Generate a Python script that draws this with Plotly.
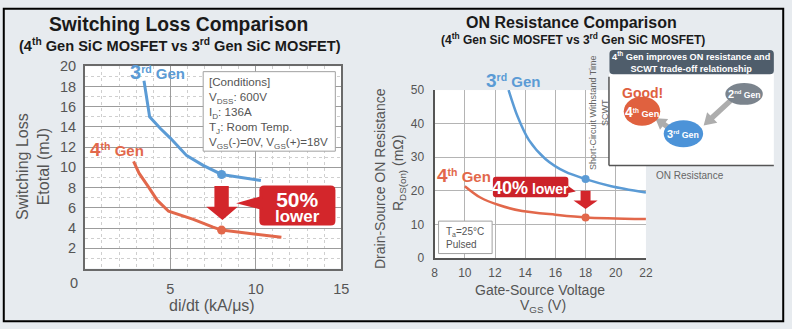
import math
import plotly.graph_objects as go

# ---------------- data ----------------
# Left: switching loss vs di/dt
sw_x_3rd = [3.46, 3.79, 4.42, 5.0, 5.96, 6.92, 8.0, 10.3]
sw_y_3rd = [18.56, 15.0, 13.84, 12.9, 11.16, 10.2, 9.3, 8.7]
sw_x_4th = [2.85, 3.17, 3.75, 4.23, 4.9, 6.35, 7.5, 8.0, 11.5]
sw_y_4th = [10.6, 9.43, 8.0, 6.76, 5.66, 4.87, 4.1, 3.8, 3.1]
sw_mark_3rd = 6   # index of highlighted point
sw_mark_4th = 7
sw_xticks = [0, 5, 10, 15]
sw_xticktext = ["", "5", "10", "15"]
sw_yticks = [0, 2, 4, 6, 8, 10, 12, 14, 16, 18, 20]
sw_yticktext = ["", "2", "4", "6", "8", "10", "12", "14", "16", "18", "20"]

# Right: ON resistance vs VGS
ron_x_3rd = [12.9, 13.49, 14.25, 15.34, 16.65, 18.0, 19.7, 22.0]
ron_y_3rd = [50.0, 42.2, 35.1, 29.5, 25.7, 23.5, 21.4, 19.5]
ron_x_4th = [10.0, 11.0, 12.3, 13.8, 16.0, 18.0, 22.0]
ron_y_4th = [21.4, 18.1, 15.7, 14.0, 12.9, 12.1, 11.6]
ron_mark_3rd = 5
ron_mark_4th = 5

# ---------------- style ----------------
W, H = 792, 329
BG = "#e7ebef"
BLUE = "#5b9bd5"
ORANGE = "#e2684b"
RED = "#d3262b"
GRAY_TXT = "#555555"
FONT = "Liberation Sans, Arial, sans-serif"


def px(x):
    return x / W


def py(y):
    return 1 - y / H


def rrect_path(x0, y0, x1, y1, rx, ry):
    # y0 < y1 (data/paper units, y up)
    return (f"M {x0+rx},{y1} L {x1-rx},{y1} Q {x1},{y1} {x1},{y1-ry} "
            f"L {x1},{y0+ry} Q {x1},{y0} {x1-rx},{y0} L {x0+rx},{y0} "
            f"Q {x0},{y0} {x0},{y0+ry} L {x0},{y1-ry} Q {x0},{y1} {x0+rx},{y1} Z")


def block_arrow(x0, y0, x1, y1, sw, hw, hl):
    # pixel coords (y down) -> paper path
    dx, dy = x1 - x0, y1 - y0
    L = math.hypot(dx, dy)
    ux, uy = dx / L, dy / L
    nx, ny = -uy, ux
    bx, by = x1 - ux * hl, y1 - uy * hl
    pts = [(x0 + nx * sw / 2, y0 + ny * sw / 2), (bx + nx * sw / 2, by + ny * sw / 2),
           (bx + nx * hw / 2, by + ny * hw / 2), (x1, y1),
           (bx - nx * hw / 2, by - ny * hw / 2), (bx - nx * sw / 2, by - ny * sw / 2),
           (x0 - nx * sw / 2, y0 - ny * sw / 2)]
    return "M " + " L ".join(f"{px(a):.5f},{py(b):.5f}" for a, b in pts) + " Z"


fig = go.Figure()

# left curves
fig.add_trace(go.Scatter(x=sw_x_3rd, y=sw_y_3rd, mode="lines",
                         line=dict(color=BLUE, width=3), xaxis="x", yaxis="y"))
fig.add_trace(go.Scatter(x=sw_x_4th, y=sw_y_4th, mode="lines",
                         line=dict(color=ORANGE, width=3), xaxis="x", yaxis="y"))
fig.add_trace(go.Scatter(x=[sw_x_3rd[sw_mark_3rd], sw_x_4th[sw_mark_4th]],
                         y=[sw_y_3rd[sw_mark_3rd], sw_y_4th[sw_mark_4th]],
                         mode="markers", marker=dict(color=[BLUE, ORANGE], size=9),
                         xaxis="x", yaxis="y"))
# right curves
fig.add_trace(go.Scatter(x=ron_x_3rd, y=ron_y_3rd, mode="lines",
                         line=dict(color=BLUE, width=2.5, shape="spline", smoothing=0.8),
                         xaxis="x2", yaxis="y2"))
fig.add_trace(go.Scatter(x=ron_x_4th, y=ron_y_4th, mode="lines",
                         line=dict(color=ORANGE, width=2.5, shape="spline", smoothing=0.8),
                         xaxis="x2", yaxis="y2"))
fig.add_trace(go.Scatter(x=[ron_x_3rd[ron_mark_3rd], ron_x_4th[ron_mark_4th]],
                         y=[ron_y_3rd[ron_mark_3rd], ron_y_4th[ron_mark_4th]],
                         mode="markers", marker=dict(color=[BLUE, ORANGE], size=8),
                         xaxis="x2", yaxis="y2"))

shapes = []
ann = []

# ---------- left arrow + callout (data coords) ----------
mx = sw_x_4th[sw_mark_4th]
my = sw_y_4th[sw_mark_4th]
shapes.append(dict(type="path", xref="x", yref="y", fillcolor=RED, line=dict(width=0),
                   path=(f"M {mx-0.42},{my+4.35} L {mx+0.42},{my+4.35} L {mx+0.42},{my+2.3} "
                         f"L {mx+0.95},{my+2.3} L {mx+0.05},{my+1.0} L {mx-0.9},{my+2.3} "
                         f"L {mx-0.42},{my+2.3} Z"), layer="above"))
shapes.append(dict(type="path", xref="x", yref="y", fillcolor=RED, line=dict(width=0),
                   path=rrect_path(10.21, 4.25, 14.66, 8.2, 0.28, 0.45), layer="above"))
shapes.append(dict(type="path", xref="x", yref="y", fillcolor=RED, line=dict(width=0),
                   path="M 10.4,7.2 L 8.85,6.45 L 10.4,5.8 Z", layer="above"))
ann.append(dict(x=12.45, y=6.1, xref="x", yref="y", showarrow=False,
                text=("<span style='font-size:21px'><b>50%</b></span><br>"
                      "<span style='font-size:17px'><b>lower</b></span>"),
                font=dict(size=11.5, color="white", family=FONT)))

# ---------- right arrow + callout ----------
rx_ = ron_x_4th[ron_mark_4th]
ry_ = ron_y_4th[ron_mark_4th]
shapes.append(dict(type="path", xref="x2", yref="y2", fillcolor=RED, line=dict(width=0),
                   path=(f"M {rx_-0.33},{ry_+7.9} L {rx_+0.33},{ry_+7.9} L {rx_+0.33},{ry_+5.0} "
                         f"L {rx_+0.8},{ry_+5.0} L {rx_},{ry_+2.5} L {rx_-0.8},{ry_+5.0} "
                         f"L {rx_-0.33},{ry_+5.0} Z"), layer="above"))
shapes.append(dict(type="path", xref="x2", yref="y2", fillcolor="#cc2229", line=dict(width=0),
                   path=rrect_path(11.86, 18.1, 16.86, 24.2, 0.2, 0.9), layer="above"))
shapes.append(dict(type="path", xref="x2", yref="y2", fillcolor="#cc2229", line=dict(width=0),
                   path="M 16.7,22.0 L 17.35,19.8 L 16.7,19.2 Z", layer="above"))
ann.append(dict(x=14.36, y=20.9, xref="x2", yref="y2",
                text="<b><span style='font-size:18px'>40%</span> lower</b>", showarrow=False,
                font=dict(size=14, color="white", family=FONT)))

# ---------- conditions box ----------
shapes.append(dict(type="rect", xref="paper", yref="paper", x0=px(203), x1=px(337),
                   y0=py(150), y1=py(66.7), fillcolor="white",
                   line=dict(color="#a0a0a0", width=1), layer="above"))
ann.append(dict(x=px(207), y=py(110.5), xref="paper", yref="paper", xanchor="left",
                yanchor="middle", align="left", showarrow=False,
                text=("[Conditions]<br>V<sub>DSS</sub>: 600V<br>I<sub>D</sub>: 136A<br>"
                      "T<sub>J</sub>: Room Temp.<br>V<sub>GS</sub>(-)=0V, V<sub>GS</sub>(+)=18V"),
                font=dict(size=11.6, color=GRAY_TXT, family=FONT)))

# ---------- Ta box ----------
shapes.append(dict(type="rect", xref="paper", yref="paper", x0=px(441.7), x1=px(496),
                   y0=py(257.3), y1=py(223.3), fillcolor="white",
                   line=dict(color="#a0a0a0", width=1), layer="above"))
ann.append(dict(x=px(447), y=py(241), xref="paper", yref="paper", xanchor="left",
                yanchor="middle", align="left", showarrow=False,
                text="T<sub>a</sub>=25°C<br>Pulsed",
                font=dict(size=10, color=GRAY_TXT, family=FONT)))

# ---------- Gen labels ----------
ann.append(dict(x=px(157), y=py(67), xref="paper", yref="paper", showarrow=False,
                text="<b><span style='font-size:20px'>3</span><sup>rd</sup> Gen</b>",
                font=dict(size=15, color=BLUE, family=FONT)))
ann.append(dict(x=px(116), y=py(148), xref="paper", yref="paper", showarrow=False,
                text="<b><span style='font-size:19px'>4</span><sup>th</sup> Gen</b>",
                font=dict(size=15, color=ORANGE, family=FONT)))
ann.append(dict(x=px(517), y=py(76), xref="paper", yref="paper", showarrow=False,
                text="<b><span style='font-size:19px'>3</span><sup>rd</sup> Gen</b>",
                font=dict(size=15, color=BLUE, family=FONT)))
ann.append(dict(x=px(467.5), y=py(176), xref="paper", yref="paper", showarrow=False,
                text="<b><span style='font-size:19px'>4</span><sup>th</sup> Gen</b>",
                font=dict(size=15, color=ORANGE, family=FONT)))

# ---------- titles ----------
ann.append(dict(x=px(178), y=py(17), xref="paper", yref="paper", showarrow=False,
                text="<b>Switching Loss Comparison</b>",
                font=dict(size=19.3, color="#1a1a1a", family=FONT)))
ann.append(dict(x=px(179), y=py(38.5), xref="paper", yref="paper", showarrow=False,
                text="<b>(4<sup>th</sup> Gen SiC MOSFET vs 3<sup>rd</sup> Gen SiC MOSFET)</b>",
                font=dict(size=14.6, color="#1a1a1a", family=FONT)))
ann.append(dict(x=px(576), y=py(15), xref="paper", yref="paper", showarrow=False,
                text="<b>ON Resistance Comparison</b>",
                font=dict(size=16, color="#1a1a1a", family=FONT)))
ann.append(dict(x=px(578), y=py(33), xref="paper", yref="paper", showarrow=False,
                text="<b>(4<sup>th</sup> Gen SiC MOSFET vs 3<sup>rd</sup> Gen SiC MOSFET)</b>",
                font=dict(size=12, color="#1a1a1a", family=FONT)))

# ---------- axis titles ----------
ann.append(dict(x=px(31), y=py(166), xref="paper", yref="paper", showarrow=False,
                textangle=-90, text="Switching Loss<br>Etotal (mJ)",
                font=dict(size=16, color=GRAY_TXT, family=FONT)))
ann.append(dict(x=px(212), y=py(311.5), xref="paper", yref="paper", showarrow=False,
                text="di/dt (kA/μs)", font=dict(size=16, color=GRAY_TXT, family=FONT)))
ann.append(dict(x=px(72), y=py(288), xref="paper", yref="paper", showarrow=False,
                text="0", font=dict(size=14.5, color=GRAY_TXT, family=FONT)))
ann.append(dict(x=px(382.5), y=py(179), xref="paper", yref="paper", showarrow=False,
                textangle=-90, text="Drain-Source ON Resistance",
                font=dict(size=14, color=GRAY_TXT, family=FONT)))
ann.append(dict(x=px(401), y=py(172.5), xref="paper", yref="paper", showarrow=False,
                textangle=-90, text="R<sub>DS(on)</sub> (mΩ)",
                font=dict(size=14, color=GRAY_TXT, family=FONT)))
ann.append(dict(x=px(544.5), y=py(295), xref="paper", yref="paper", showarrow=False,
                text="Gate-Source Voltage",
                font=dict(size=14, color=GRAY_TXT, family=FONT)))
ann.append(dict(x=px(547.5), y=py(312), xref="paper", yref="paper", showarrow=False,
                text="V<sub>GS</sub> (V)",
                font=dict(size=14, color=GRAY_TXT, family=FONT)))

# ---------- inset ----------
shapes.append(dict(type="rect", xref="paper", yref="paper", x0=px(614.5), x1=px(781.7),
                   y0=py(165), y1=py(69), fillcolor="white", line=dict(width=0), layer="above"))
shapes.append(dict(type="path", xref="paper", yref="paper", fillcolor="#4f5d6b",
                   line=dict(width=0), layer="above",
                   path=rrect_path(px(615), py(69.5), px(781.7), py(44), px(4), 4 / H)))
shapes.append(dict(type="line", xref="paper", yref="paper", x0=px(614.5), x1=px(614.5),
                   y0=py(72), y1=py(165), line=dict(color="#555", width=1.5), layer="above"))
shapes.append(dict(type="line", xref="paper", yref="paper", x0=px(614.5), x1=px(781.7),
                   y0=py(165), y1=py(165), line=dict(color="#555", width=1.5), layer="above"))
# gray arrows (behind ellipses)
shapes.append(dict(type="path", xref="paper", yref="paper", fillcolor="#adadad",
                   line=dict(width=0), layer="above",
                   path=block_arrow(740, 95, 710.5, 123, 5.5, 15, 12)))
shapes.append(dict(type="path", xref="paper", yref="paper", fillcolor="#adadad",
                   line=dict(width=0), layer="above",
                   path=block_arrow(680, 129, 661.5, 115.5, 5.5, 14, 11)))
# ellipses
shapes.append(dict(type="circle", xref="paper", yref="paper", x0=px(732.5), x1=px(770.5),
                   y0=py(101.5), y1=py(78.5), fillcolor="#7b848d", line=dict(width=0),
                   layer="above"))
shapes.append(dict(type="circle", xref="paper", yref="paper", x0=px(670), x1=px(710),
                   y0=py(146), y1=py(117.5), fillcolor="#4c93d8", line=dict(width=0),
                   layer="above"))
shapes.append(dict(type="circle", xref="paper", yref="paper", x0=px(629.5), x1=px(666.5),
                   y0=py(123.5), y1=py(93), fillcolor="#e0613f", line=dict(width=0),
                   layer="above"))
ann.append(dict(x=px(698), y=py(57), xref="paper", yref="paper", showarrow=False,
                text="<b>4<sup>th</sup> Gen improves ON resistance and<br>SCWT trade-off relationship</b>",
                font=dict(size=9.2, color="white", family=FONT)))
ann.append(dict(x=px(604.5), y=py(110), xref="paper", yref="paper", showarrow=False,
                textangle=-90, text="Short-Circuit Withstand Time<br>SCWT",
                font=dict(size=9, color="#666", family=FONT)))
ann.append(dict(x=px(697), y=py(175), xref="paper", yref="paper", showarrow=False,
                text="ON Resistance", font=dict(size=10, color="#666", family=FONT)))
ann.append(dict(x=px(648), y=py(89), xref="paper", yref="paper", showarrow=False,
                text="<b>Good!</b>", font=dict(size=14, color="#e0603f", family=FONT)))
ann.append(dict(x=px(752), y=py(90), xref="paper", yref="paper", showarrow=False,
                text="<b><span style='font-size:11px'>2</span><sup>nd</sup> Gen</b>",
                font=dict(size=8.6, color="white", family=FONT)))
ann.append(dict(x=px(690), y=py(132), xref="paper", yref="paper", showarrow=False,
                text="<b><span style='font-size:11px'>3</span><sup>rd</sup> Gen</b>",
                font=dict(size=8.8, color="white", family=FONT)))
ann.append(dict(x=px(648), y=py(108.5), xref="paper", yref="paper", showarrow=False,
                text="<b><span style='font-size:14px'>4</span><sup>th</sup> Gen</b>",
                font=dict(size=9.2, color="white", family=FONT)))

for a in ann:
    a.setdefault("xanchor", "center")
    a.setdefault("yanchor", "middle")

# outer border
shapes.append(dict(type="rect", xref="paper", yref="paper", x0=0.001, x1=0.999,
                   y0=0.002, y1=0.998, line=dict(color="black", width=2), layer="above"))

tickfont_l = dict(size=14.5, color=GRAY_TXT, family=FONT)
tickfont_r = dict(size=12, color=GRAY_TXT, family=FONT)

fig.update_layout(
    width=W, height=H, margin=dict(l=0, r=0, t=0, b=0),
    paper_bgcolor=BG, plot_bgcolor="white", showlegend=False,
    font=dict(family=FONT),
    xaxis=dict(domain=[px(83), px(343)], range=[0, 15], anchor="y",
               tickmode="array", tickvals=sw_xticks, ticktext=sw_xticktext,
               showline=True, mirror=True, linecolor="#6a6a6a", linewidth=1.5,
               showgrid=True, gridcolor="#9c9c9c", gridwidth=1, zeroline=False,
               ticks="", tickfont=tickfont_l, ticklabelstandoff=6,
               minor=dict(tickmode="linear", tick0=0, dtick=1, showgrid=True,
                          gridcolor="#cfcfcf", griddash="dot", gridwidth=1)),
    yaxis=dict(domain=[py(273), py(61)], range=[0, 20], anchor="x",
               tickmode="array", tickvals=sw_yticks, ticktext=sw_yticktext,
               showline=True, mirror=True, linecolor="#6a6a6a", linewidth=1.5,
               showgrid=True, gridcolor="#9c9c9c", gridwidth=1, zeroline=False,
               ticks="", tickfont=tickfont_l, ticklabelstandoff=4,
               minor=dict(tickmode="linear", tick0=0, dtick=1, showgrid=True,
                          gridcolor="#cfcfcf", griddash="dot", gridwidth=1)),
    xaxis2=dict(domain=[px(437.7), px(652)], range=[8, 22], anchor="y2",
                dtick=2, tick0=8, showline=True, linecolor="#555", linewidth=2,
                showgrid=True, gridcolor="#b4b4b4", gridwidth=1.2, zeroline=False,
                ticks="", tickfont=tickfont_r, ticklabelstandoff=3),
    yaxis2=dict(domain=[py(262), py(86)], range=[0, 50], anchor="x2",
                dtick=10, showline=True, linecolor="#555", linewidth=2,
                showgrid=True, gridcolor="#b4b4b4", gridwidth=1.2, zeroline=False,
                ticks="", tickfont=tickfont_r, ticklabelstandoff=6),
    shapes=shapes, annotations=ann,
)

fig.write_html("out.html")
